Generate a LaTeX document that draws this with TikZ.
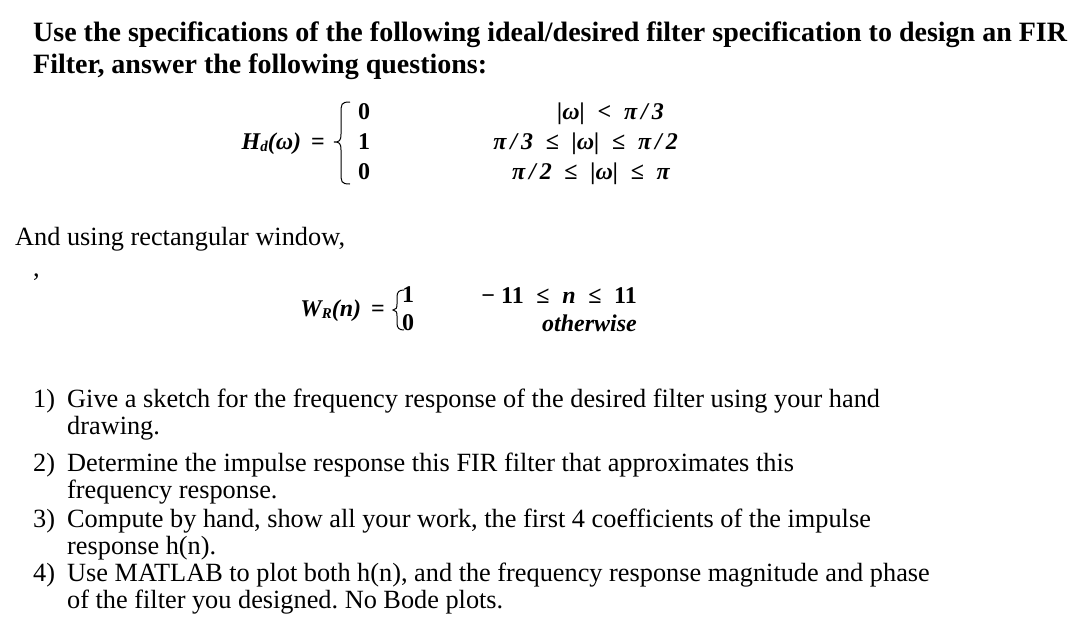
\documentclass[tikz,border=0pt]{standalone}
\usepackage{fontspec}
\setmainfont{Liberation Serif}
\frenchspacing
\begin{document}
\begin{tikzpicture}[x=1pt,y=-1pt,
  t/.style={anchor=base west,inner sep=0pt,font=\fontsize{26.3}{30}\selectfont},
  ttl/.style={anchor=base west,inner sep=0pt,font=\fontsize{28}{32}\selectfont\bfseries},
  m/.style={inner sep=0pt,font=\fontsize{24}{28}\selectfont\bfseries\itshape}]
\useasboundingbox[fill=white] (0,0) rectangle (1077,634);
\node[ttl] (t1) at (33,42) {Use the specifications of the following ideal/desired filter specification to design an FIR};
\node[ttl] (t2) at (33,74) {Filter, answer the following questions:};
% H_d
\node[m,anchor=base east] (hd) at (325,149) {H\raisebox{-0.25ex}{\fontsize{15}{16}\selectfont d}(ω)\, \upshape=};
\node[m,anchor=base] (v1) at (364,119) {\upshape 0};
\node[m,anchor=base] (v2) at (364,149) {\upshape 1};
\node[m,anchor=base] (v3) at (364,179) {\upshape 0};
\draw[line width=1pt] (350,102) .. controls (341,102) and (341,104) .. (341,114) -- (341,134) .. controls (341,141) and (339,142) .. (334,142) .. controls (339,142) and (341,143) .. (341,150) -- (341,172) .. controls (341,182) and (341,184) .. (350,184);
\node[m,anchor=base east] (c1) at (664,119) {|ω|\; \upshape<\; \itshape π\,/\,3};
\node[m,anchor=base east] (c2) at (678,149) {π\,/\,3\; \upshape≤\; \itshape|ω|\; \upshape≤\; \itshape π\,/\,2};
\node[m,anchor=base east] (c3) at (670,179) {π\,/\,2\; \upshape≤\; \itshape|ω|\; \upshape≤\; \itshape π};
\node[t] (a1) at (15,245) {And using rectangular window,};
\node[t] (a2) at (33,276) {,};
% W_R
\node[m,anchor=base east] (wr) at (385,316) {W\raisebox{-0.25ex}{\fontsize{15}{16}\selectfont R}(n)\, \upshape=};
\node[m,anchor=base] (u1) at (408,302) {\upshape 1};
\node[m,anchor=base] (u2) at (408,330) {\upshape 0};
\draw[line width=1pt] (404,290) .. controls (399,290) and (397,292) .. (397,297) -- (397,304) .. controls (397,308) and (396,310) .. (393,310) .. controls (396,310) and (397,312) .. (397,316) -- (397,323) .. controls (397,328) and (399,330) .. (404,330);
\node[m,anchor=base east] (r1) at (637,303) {\upshape − 11\; ≤\; \itshape n\; \upshape≤\; 11};
\node[m,anchor=base east] (r2) at (637,331) {otherwise};
% list
\foreach \n/\y/\txt in {1/407/{Give a sketch for the frequency response of the desired filter using your hand},
  2/471/{Determine the impulse response this FIR filter that approximates this},
  3/527/{Compute by hand, show all your work, the first 4 coefficients of the impulse},
  4/581/{Use MATLAB to plot both h(n), and the frequency response magnitude and phase}}{
  \node[t] (n\n) at (33,\y) {\n)};
  \node[t] (l\n) at (67,\y) {\txt};}
\node[t] (m1) at (67,434) {drawing.};
\node[t] (m2) at (67,498) {frequency response.};
\node[t] (m3) at (67,554) {response h(n).};
\node[t] (m4) at (67,608) {of the filter you designed. No Bode plots.};
\end{tikzpicture}
\end{document}
